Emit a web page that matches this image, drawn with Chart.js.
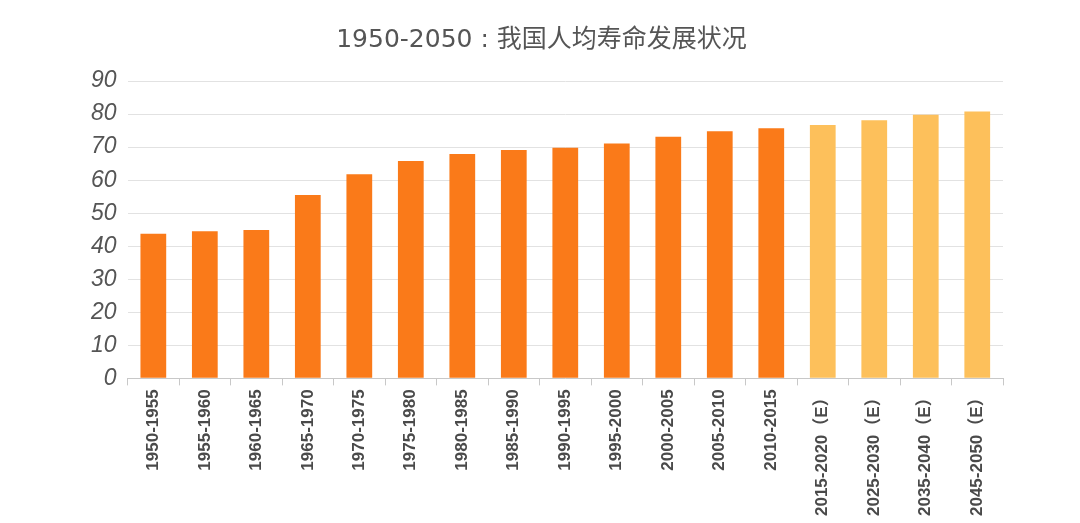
<!DOCTYPE html>
<html>
<head>
<meta charset="utf-8">
<script src="https://cdn.jsdelivr.net/npm/chart.js@4/dist/chart.umd.min.js"></script>
<style>
  html, body { margin: 0; padding: 0; background: #fff; }
  #wrap { width: 1080px; height: 523px; position: relative; }
</style>
</head>
<body>
<div id="wrap"><canvas id="life-chart"></canvas></div>
<script>
// Periods (E = estimate) and life expectancy
const periods = [
  "1950-1955", "1955-1960", "1960-1965", "1965-1970", "1970-1975", "1975-1980",
  "1980-1985", "1985-1990", "1990-1995", "1995-2000", "2000-2005", "2005-2010",
  "2010-2015", "2015-2020（E）", "2025-2030（E）", "2035-2040（E）", "2045-2050（E）"
];
const lifeExpectancy = [43.8, 44.5, 44.9, 55.5, 61.8, 65.8, 67.9, 69.1, 69.8, 71.1, 73.1, 74.8, 75.7, 76.7, 78.1, 79.8, 80.8];
const yTicks = [0, 10, 20, 30, 40, 50, 60, 70, 80, 90];

const actualColor = "#FA7A19";
const estimateColor = "#FDC05B";

const barColors = periods.map(p => p.includes("E") ? estimateColor : actualColor);

const ctx = document.getElementById("life-chart").getContext("2d");

new Chart(ctx, {
  type: "bar",
  data: {
    labels: periods,
    datasets: [{
      data: lifeExpectancy,
      backgroundColor: barColors,
      borderWidth: 0,
      categoryPercentage: 1,
      barPercentage: 0.5
    }]
  },
  options: {
    responsive: true,
    maintainAspectRatio: false,
    animation: false,
    layout: { padding: { left: 80, right: 77, top: 10, bottom: 3 } },
    plugins: {
      legend: { display: false },
      tooltip: { enabled: false },
      title: {
        display: true,
        text: "1950-2050 : 我国人均寿命发展状况",
        color: "#555",
        font: { family: "'DejaVu Sans', 'Noto Sans CJK SC', sans-serif", size: 25, weight: "normal" },
        padding: { top: 15, bottom: 26 }
      }
    },
    scales: {
      x: {
        grid: {
          display: true,
          drawOnChartArea: false,
          drawTicks: true,
          tickLength: 7,
          color: "#c8c8c8",
          offset: true
        },
        border: { display: true, color: "#c8c8c8" },
        ticks: {
          autoSkip: false,
          maxRotation: 90,
          minRotation: 90,
          color: "#4a4a4a",
          padding: 4,
          font: { family: "'Liberation Sans', 'Noto Sans CJK SC', sans-serif", size: 17, weight: "bold" }
        }
      },
      y: {
        min: 0,
        max: 90,
        afterBuildTicks: axis => { axis.ticks = yTicks.map(v => ({ value: v })); },
        grid: { color: "#e2e2e2", drawTicks: false },
        border: { display: false },
        ticks: {
          color: "#555",
          padding: 11,
          font: { family: "'Liberation Sans', sans-serif", size: 23, style: "italic" }
        }
      }
    }
  }
});
</script>
</body>
</html>
